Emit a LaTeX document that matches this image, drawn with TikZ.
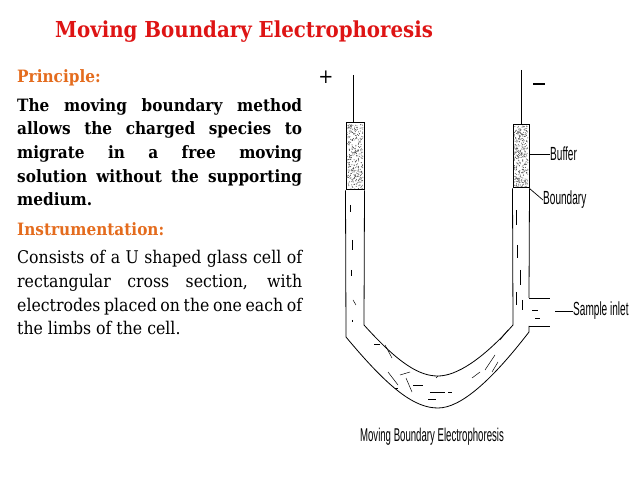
\documentclass[tikz,border=0pt]{standalone}
\usepackage{fontspec}
\setmainfont{DejaVu Serif}[FakeStretch=0.9]
\newfontfamily\cond{Liberation Sans}
\newcommand{\narrowlab}[1]{\scalebox{0.53}[1]{\cond\fontsize{19}{21}\selectfont #1}}
\definecolor{ttl}{RGB}{222,20,20}
\definecolor{hd}{RGB}{228,108,30}
\begin{document}
\begin{tikzpicture}[x=1pt,y=-1pt,
  head/.style={text=hd,font=\bfseries\fontsize{17}{20}\selectfont,anchor=west,inner sep=0},
  para/.style={anchor=north west,inner sep=0,text width=285pt,align=justify},
  lab/.style={anchor=west,inner sep=0},
  glass/.style={line width=0.8pt},
  liq/.style={line width=0.5pt}]
\useasboundingbox (0,0) rectangle (638,478);
\node[text=ttl,font=\bfseries\fontsize{22}{24}\selectfont,anchor=west,inner sep=0] (title) at (55,32) {Moving Boundary Electrophoresis};
\node[head] (pr) at (17,78) {Principle:};
\node[para,font=\bfseries\fontsize{17}{23.7}\selectfont] (p1) at (17,98)
 {The moving boundary method\linebreak allows the charged species to\linebreak migrate in a free moving\linebreak solution without the supporting\linebreak medium.};
\node[head] (in) at (17,229) {Instrumentation:};
\node[para,font=\fontsize{17.5}{23.8}\selectfont] (p2) at (17,250)
 {Consists of a U shaped glass cell of\linebreak rectangular cross section, with\linebreak electrodes placed on the one each of\linebreak the limbs of the cell.};
% signs
\node[font=\fontsize{20}{20}\selectfont,inner sep=0] (plus) at (326,77) {+};
\node[minimum width=11pt,inner sep=0] (minus) at (539,84) {};
\draw[line width=1.3pt] (minus.west) -- (minus.east);
% buffers
\coordinate (lw) at (353,75);
\coordinate (rw) at (521,70);
\node[draw,line width=1pt,minimum width=18pt,minimum height=67pt,inner sep=0] (lb) at (355,156.5) {};
\node[draw,line width=1pt,minimum width=16pt,minimum height=63pt,inner sep=0] (rb) at (521,156.5) {};
\draw[line width=0.8pt] (lw) -- (lb.north -| lw);
\draw[line width=0.8pt] (rw) -- (rb.north);
\pgfmathsetseed{7}
\foreach \i in {1,...,320}{
  \fill[black!70] (347+rnd*16,124+rnd*65) circle (0.5);
  \fill[black!70] (514+rnd*14,126+rnd*61) circle (0.5);
}
% tube
\draw[glass] (lb.south west) -- (346,337) .. controls (390,390) and (415,408) .. (438,408)
  .. controls (461,408) and (492,380) .. (529,332) -- (529,326);
\draw[glass] (lb.south east) -- (364,325) .. controls (400,365) and (420,376) .. (438,376)
  .. controls (456,376) and (482,360) .. (513,325) -- (rb.south west);
\draw[glass] (rb.south east) -- (529,298);
\coordinate (it) at (550,298);
\coordinate (ib) at (550,326);
\draw[glass] (529,298) -- (it);
\draw[glass] (529,326) -- (ib);
% liquid dashes
\foreach \a/\b/\c/\d in {350/205/350/212, 352/240/352/250, 351/270/351/276, 353/300/356/305, 352/320/352/322,
  516/210/516/225, 517/245/517/258, 520/270/520/285, 516/292/516/305, 522/300/522/310,
  532/310/538/310, 535/318/540/318, 374/344/380/344, 385/345/392/358, 400/375/410/372, 406/378/412/392,
  413/385/423/385, 430/392/445/392, 448/392/452/392, 428/399/436/399, 436/378/438/376,
  472/378/480/372, 485/370/495/355, 492/372/498/362, 500/340/508/330, 388/372/398/385, 395/388/398/388}
  \draw[liq] (\a,\b) -- (\c,\d);
% labels
\node[lab] (buf) at (550,154) {\narrowlab{Buffer}};
\draw[line width=0.7pt] (rb.east |- buf) -- (buf.west);
\node[lab] (bnd) at (543,200) {\narrowlab{Boundary}};
\draw[line width=0.7pt] (rb.south east) -- (bnd.west);
\node[lab] (smp) at (573,311) {\narrowlab{Sample inlet}};
\coordinate (sl) at (555,311);
\draw[line width=0.7pt] (sl) -- (smp.west);
\node[inner sep=0] (cap) at (432,437) {\scalebox{0.52}[1]{\cond\fontsize{18.5}{21}\selectfont Moving Boundary Electrophoresis}};
\end{tikzpicture}
\end{document}
